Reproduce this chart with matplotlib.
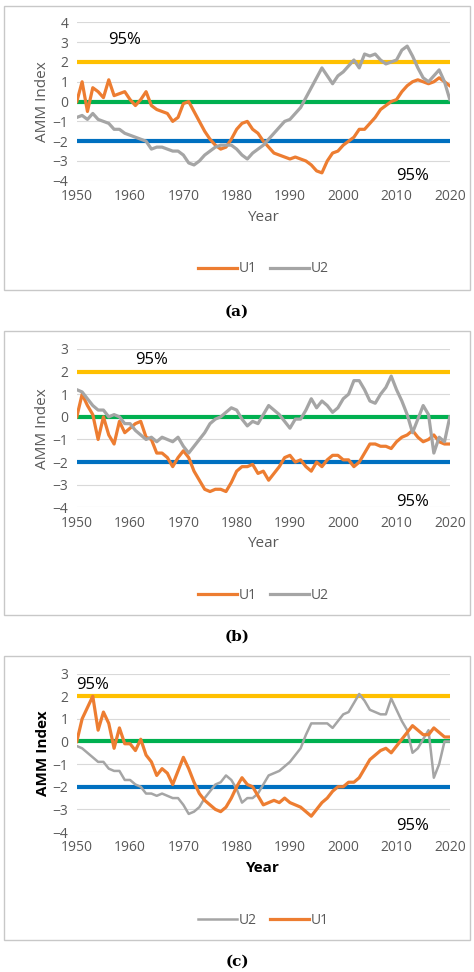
import matplotlib.pyplot as plt
from matplotlib.patches import Rectangle
import numpy as np

years = np.arange(1950, 2021)

# panel (a)
a_u1 = [0.0,
        1.0, -0.5, 0.7, 0.5, 0.2, 1.1, 0.3, 0.4, 0.5, 0.1,
        -0.2, 0.1, 0.5, -0.2, -0.4, -0.5, -0.6, -1.0, -0.8, -0.1,
        0.0, -0.5, -1.0, -1.5, -1.9, -2.2, -2.4, -2.3, -1.9, -1.4,
        -1.1, -1.0, -1.4, -1.6, -2.0, -2.3, -2.6, -2.7, -2.8, -2.9,
        -2.8, -2.9, -3.0, -3.2, -3.5, -3.6, -3.0, -2.6, -2.5, -2.2,
        -2.0, -1.8, -1.4, -1.4, -1.1, -0.8, -0.4, -0.2, 0.0, 0.1,
        0.5, 0.8, 1.0, 1.1, 1.0, 0.9, 1.0, 1.2, 1.0, 0.8]
a_u2 = [-0.8,
        -0.7, -0.9, -0.6, -0.9, -1.0, -1.1, -1.4, -1.4, -1.6, -1.7,
        -1.8, -1.9, -2.0, -2.4, -2.3, -2.3, -2.4, -2.5, -2.5, -2.7,
        -3.1, -3.2, -3.0, -2.7, -2.5, -2.3, -2.2, -2.2, -2.2, -2.4,
        -2.7, -2.9, -2.6, -2.4, -2.2, -1.9, -1.6, -1.3, -1.0, -0.9,
        -0.6, -0.3, 0.2, 0.7, 1.2, 1.7, 1.3, 0.9, 1.3, 1.5,
        1.8, 2.1, 1.7, 2.4, 2.3, 2.4, 2.1, 1.9, 2.0, 2.1,
        2.6, 2.8, 2.3, 1.7, 1.2, 1.0, 1.3, 1.6, 1.0, 0.1]

# panel (b)
b_u1 = [0.0,
        1.0, 0.5, 0.1, -1.0, 0.0, -0.8, -1.2, -0.2, -0.7, -0.5,
        -0.3, -0.2, -0.9, -1.0, -1.6, -1.6, -1.8, -2.2, -1.8, -1.5,
        -1.8, -2.4, -2.8, -3.2, -3.3, -3.2, -3.2, -3.3, -2.9, -2.4,
        -2.2, -2.2, -2.1, -2.5, -2.4, -2.8, -2.5, -2.2, -1.8, -1.7,
        -2.0, -1.9, -2.2, -2.4, -2.0, -2.2, -1.9, -1.7, -1.7, -1.9,
        -1.9, -2.2, -2.0, -1.6, -1.2, -1.2, -1.3, -1.3, -1.4, -1.1,
        -0.9, -0.8, -0.6, -0.9, -1.1, -1.0, -0.8, -1.1, -1.2, -1.2]
b_u2 = [1.2,
        1.1, 0.8, 0.5, 0.3, 0.3, 0.0, 0.1, 0.0, -0.3, -0.3,
        -0.6, -0.8, -1.0, -0.9, -1.1, -0.9, -1.0, -1.1, -0.9, -1.3,
        -1.6, -1.3, -1.0, -0.7, -0.3, -0.1, 0.0, 0.2, 0.4, 0.3,
        -0.1, -0.4, -0.2, -0.3, 0.1, 0.5, 0.3, 0.1, -0.2, -0.5,
        -0.1, -0.1, 0.3, 0.8, 0.4, 0.7, 0.5, 0.2, 0.4, 0.8,
        1.0, 1.6, 1.6, 1.2, 0.7, 0.6, 1.0, 1.3, 1.8, 1.2,
        0.7, 0.1, -0.7, -0.1, 0.5, 0.1, -1.6, -0.9, -1.1, 0.0]

# panel (c)
c_u1 = [0.0,
        1.0, 1.5, 2.0, 0.5, 1.3, 0.8, -0.3, 0.6, -0.1, -0.1,
        -0.4, 0.1, -0.6, -0.9, -1.5, -1.2, -1.4, -1.9, -1.3, -0.7,
        -1.2, -1.8, -2.3, -2.6, -2.8, -3.0, -3.1, -2.9, -2.5, -2.0,
        -1.6, -1.9, -2.0, -2.4, -2.8, -2.7, -2.6, -2.7, -2.5, -2.7,
        -2.8, -2.9, -3.1, -3.3, -3.0, -2.7, -2.5, -2.2, -2.0, -2.0,
        -1.8, -1.8, -1.6, -1.2, -0.8, -0.6, -0.4, -0.3, -0.5, -0.2,
        0.1, 0.4, 0.7, 0.5, 0.3, 0.3, 0.6, 0.4, 0.2, 0.2]
c_u2 = [-0.2,
        -0.3, -0.5, -0.7, -0.9, -0.9, -1.2, -1.3, -1.3, -1.7, -1.7,
        -1.9, -2.0, -2.3, -2.3, -2.4, -2.3, -2.4, -2.5, -2.5, -2.8,
        -3.2, -3.1, -2.9, -2.5, -2.2, -1.9, -1.8, -1.5, -1.7, -2.1,
        -2.7, -2.5, -2.5, -2.3, -1.9, -1.5, -1.4, -1.3, -1.1, -0.9,
        -0.6, -0.3, 0.3, 0.8, 0.8, 0.8, 0.8, 0.6, 0.9, 1.2,
        1.3, 1.7, 2.1, 1.8, 1.4, 1.3, 1.2, 1.2, 1.9, 1.4,
        0.9, 0.5, -0.5, -0.3, 0.1, 0.5, -1.6, -1.0, 0.0, 0.0]

orange = '#ED7D31'
gray = '#A5A5A5'

fig = plt.figure(figsize=(4.74, 9.72), dpi=100)
plt.rcParams['font.family'] = ['Open Sans', 'DejaVu Sans']

panels = [
    # (u1, u2, ymin, ymax, axes bottom, box bottom, label y, bold, order)
    (a_u1, a_u2, -4, 4, 0.814, 0.702, 1 - 312 / 972, False, 'u1'),
    (b_u1, b_u2, -4, 3, 0.478, 0.367, 1 - 637 / 972, False, 'u1'),
    (c_u1, c_u2, -4, 3, 0.144, 0.033, 1 - 962 / 972, True, 'u2'),
]

for u1, u2, ymin, ymax, bot, boxbot, laby, bold, order in panels:
    fig.patches.append(Rectangle((0.009, boxbot), 0.983, 0.292, transform=fig.transFigure,
                                 fill=False, edgecolor='#c8c8c8', linewidth=1))
    ax = fig.add_axes([0.162, bot, 0.787, 0.163])
    ax.axhline(2, color='#FFC000', lw=3, zorder=2)
    ax.axhline(0, color='#00B050', lw=3, zorder=2)
    ax.axhline(-2, color='#0070C0', lw=3, zorder=2)
    if order == 'u1':
        l1, = ax.plot(years, u1, color=orange, lw=2.3, zorder=3, label='U1')
        l2, = ax.plot(years, u2, color=gray, lw=2.3, zorder=3, label='U2')
        handles = [l1, l2]
    else:
        l2, = ax.plot(years, u2, color=gray, lw=1.8, zorder=3, label='U2')
        l1, = ax.plot(years, u1, color=orange, lw=2.3, zorder=4, label='U1')
        handles = [l2, l1]
    ax.set_xlim(1950, 2020)
    ax.set_ylim(ymin, ymax)
    ax.set_xticks(range(1950, 2021, 10))
    ax.set_yticks(range(ymin, ymax + 1))
    ax.grid(axis='y', color='#d9d9d9', lw=0.8, zorder=0)
    for s in ax.spines.values():
        s.set_visible(False)
    ax.tick_params(length=0, labelsize=10, colors='#595959', pad=6)
    w = 'bold' if bold else 'normal'
    c = 'black' if bold else '#595959'
    ax.set_ylabel('AMM Index', fontsize=11, color=c, fontweight=w, labelpad=2)
    ax.set_xlabel('Year', fontsize=11, color=c, fontweight=w, labelpad=4)
    ytop = 3.1 if ymax == 4 else 2.5
    xtop = 1959 if ymax == 4 else (1964 if not bold else 1953)
    ax.text(xtop, ytop, '95%', fontsize=12, ha='center', va='center')
    ax.text(2013, -3.75, '95%', fontsize=12, ha='center', va='center')
    ax.legend(handles=handles, loc='upper center', bbox_to_anchor=(0.5, -0.43), ncol=2,
              frameon=False, fontsize=10, labelcolor='#595959', handlelength=2.8,
              handletextpad=0.1, columnspacing=1.0)
    lab = '(a)' if ymax == 4 else ('(c)' if bold else '(b)')
    fig.text(0.5, laby, lab, ha='center', va='center', fontsize=11, fontweight='bold',
             family='DejaVu Serif')

fig.savefig('out.png', dpi=100)
